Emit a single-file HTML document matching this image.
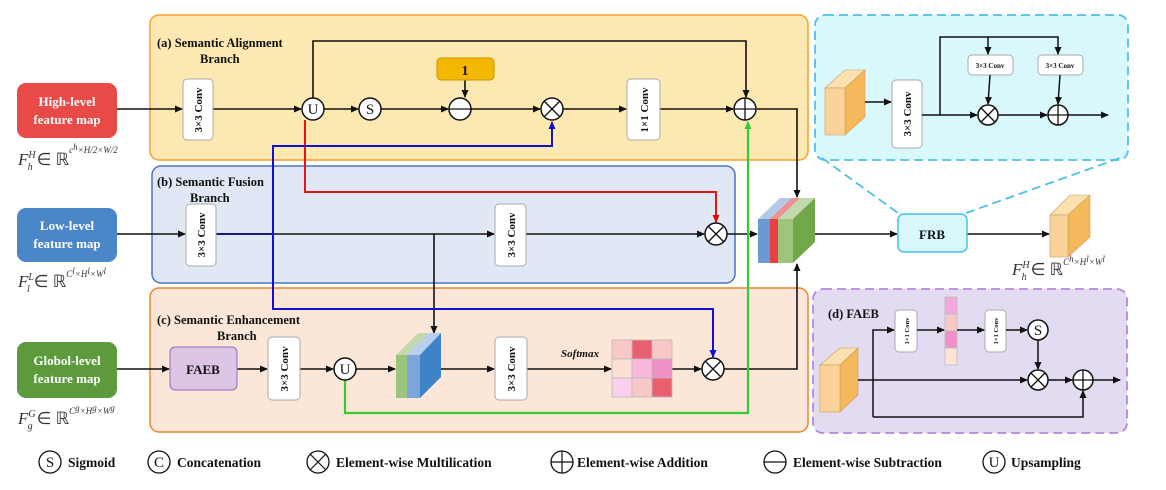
<!DOCTYPE html>
<html><head><meta charset="utf-8"><style>
html,body{margin:0;padding:0;background:#fff}
svg{display:block}
text{font-family:"Liberation Serif",serif;font-weight:bold;fill:#111}
text.n{font-weight:normal}
</style></head><body>
<svg width="1166" height="490" viewBox="0 0 1166 490" xmlns="http://www.w3.org/2000/svg">
<defs>
<marker id="ak" markerWidth="8" markerHeight="8" refX="7" refY="4" orient="auto" markerUnits="userSpaceOnUse"><path d="M0,0.5 L8,4 L0,7.5Z" fill="#111"/></marker>
<marker id="ar" markerWidth="8" markerHeight="8" refX="7" refY="4" orient="auto" markerUnits="userSpaceOnUse"><path d="M0,0.5 L8,4 L0,7.5Z" fill="#e00"/></marker>
<marker id="ab" markerWidth="8" markerHeight="8" refX="7" refY="4" orient="auto" markerUnits="userSpaceOnUse"><path d="M0,0.5 L8,4 L0,7.5Z" fill="#1010d0"/></marker>
<marker id="ag" markerWidth="8" markerHeight="8" refX="7" refY="4" orient="auto" markerUnits="userSpaceOnUse"><path d="M0,0.5 L8,4 L0,7.5Z" fill="#3c3"/></marker>
</defs>

<rect x="150" y="15" width="658" height="145" rx="9" fill="#fce9b2" stroke="#f5a02a" stroke-width="1.5"/>
<rect x="152" y="166" width="583" height="117" rx="9" fill="#e0e8f5" stroke="#4a74c4" stroke-width="1.5"/>
<rect x="150" y="288" width="658" height="144" rx="9" fill="#fce6d8" stroke="#f0842a" stroke-width="1.5"/>
<rect x="815" y="15" width="313" height="145" rx="10" fill="#d8f8fc" stroke="#4cc0e8" stroke-width="1.8" stroke-dasharray="9,5"/>
<rect x="813" y="289" width="314" height="144" rx="10" fill="#e2dbf2" stroke="#b588dc" stroke-width="1.8" stroke-dasharray="9,5"/>
<line x1="822" y1="158" x2="898" y2="213" stroke="#4cc0e8" stroke-width="1.8" stroke-dasharray="9,5"/>
<line x1="966" y1="213" x2="1120" y2="158" stroke="#4cc0e8" stroke-width="1.8" stroke-dasharray="9,5"/>

<text x="157" y="47" font-size="12.5">(a) Semantic Alignment</text>
<text x="200" y="63" font-size="12.5">Branch</text>
<text x="157" y="186" font-size="12.5">(b) Semantic Fusion</text>
<text x="190" y="202" font-size="12.5">Branch</text>
<text x="157" y="324" font-size="12.5">(c) Semantic Enhancement</text>
<text x="217" y="340" font-size="12.5">Branch</text>
<text x="828" y="318" font-size="12.5">(d) FAEB</text>

<rect x="17" y="83" width="100" height="55" rx="9" fill="#e84a48"/>
<text x="67" y="106" font-size="13" text-anchor="middle" style="fill:#fff">High-level</text>
<text x="67" y="124" font-size="13" text-anchor="middle" style="fill:#fff">feature map</text>
<rect x="17" y="208" width="100" height="54" rx="9" fill="#4a86c8"/>
<text x="67" y="230" font-size="13" text-anchor="middle" style="fill:#fff">Low-level</text>
<text x="67" y="248" font-size="13" text-anchor="middle" style="fill:#fff">feature map</text>
<rect x="17" y="342" width="100" height="56" rx="9" fill="#5c9a3c"/>
<text x="67" y="365" font-size="13" text-anchor="middle" style="fill:#fff">Globol-level</text>
<text x="67" y="383" font-size="13" text-anchor="middle" style="fill:#fff">feature map</text>

<text class="n" x="18" y="165" font-size="17" font-style="italic" style="fill:#333">F<tspan font-size="10" dy="-7">H</tspan><tspan font-size="10" dy="12" dx="-8">h</tspan><tspan dy="-5" font-style="normal" dx="4">∈ ℝ</tspan><tspan font-size="9" dy="-12">c<tspan dy="-3">h</tspan><tspan dy="3">×H/2×W/2</tspan></tspan></text>
<text class="n" x="18" y="287" font-size="17" font-style="italic" style="fill:#333">F<tspan font-size="10" dy="-7">L</tspan><tspan font-size="10" dy="12" dx="-7">l</tspan><tspan dy="-5" font-style="normal" dx="4">∈ ℝ</tspan><tspan font-size="9" dy="-10">C<tspan dy="-3">l</tspan><tspan dy="3">×H</tspan><tspan dy="-3">l</tspan><tspan dy="3">×W</tspan><tspan dy="-3">l</tspan></tspan></text>
<text class="n" x="18" y="424" font-size="17" font-style="italic" style="fill:#333">F<tspan font-size="10" dy="-7">G</tspan><tspan font-size="10" dy="12" dx="-8">g</tspan><tspan dy="-5" font-style="normal" dx="4">∈ ℝ</tspan><tspan font-size="9" dy="-10">C<tspan dy="-3">g</tspan><tspan dy="3">×H</tspan><tspan dy="-3">g</tspan><tspan dy="3">×W</tspan><tspan dy="-3">g</tspan></tspan></text>
<text class="n" x="1012" y="275" font-size="17" font-style="italic" style="fill:#333">F<tspan font-size="10" dy="-7">H</tspan><tspan font-size="10" dy="12" dx="-8">h</tspan><tspan dy="-5" font-style="normal" dx="4">∈ ℝ</tspan><tspan font-size="9" dy="-10">C<tspan dy="-3">h</tspan><tspan dy="3">×H</tspan><tspan dy="-3">l</tspan><tspan dy="3">×W</tspan><tspan dy="-3">l</tspan></tspan></text>

<g stroke="#111" stroke-width="1.6" fill="none">
<line x1="117" y1="109" x2="182" y2="109" marker-end="url(#ak)"/>
<line x1="213" y1="109" x2="301" y2="109" marker-end="url(#ak)"/>
<line x1="324" y1="109" x2="358" y2="109" marker-end="url(#ak)"/>
<line x1="381" y1="109" x2="448" y2="109" marker-end="url(#ak)"/>
<line x1="471" y1="109" x2="540" y2="109" marker-end="url(#ak)"/>
<line x1="563" y1="109" x2="626" y2="109" marker-end="url(#ak)"/>
<line x1="660" y1="109" x2="733" y2="109" marker-end="url(#ak)"/>
<line x1="465" y1="80" x2="465" y2="97" marker-end="url(#ak)"/>
<polyline points="313,98 313,41 746,41 746,97" marker-end="url(#ak)"/>
<polyline points="757,109 797,109 797,197" marker-end="url(#ak)"/>
<line x1="117" y1="234" x2="185" y2="234" marker-end="url(#ak)"/>
<line x1="216" y1="234" x2="494" y2="234" marker-end="url(#ak)"/>
<line x1="526" y1="234" x2="704" y2="234" marker-end="url(#ak)"/>
<line x1="727" y1="234" x2="757" y2="234" marker-end="url(#ak)"/>
<line x1="434" y1="234" x2="434" y2="333" marker-end="url(#ak)"/>
<line x1="815" y1="234" x2="897" y2="234" marker-end="url(#ak)"/>
<line x1="967" y1="234" x2="1049" y2="234" marker-end="url(#ak)"/>
<line x1="117" y1="369" x2="169" y2="369" marker-end="url(#ak)"/>
<line x1="237" y1="369" x2="267" y2="369" marker-end="url(#ak)"/>
<line x1="300" y1="369" x2="333" y2="369" marker-end="url(#ak)"/>
<line x1="356" y1="369" x2="395" y2="369" marker-end="url(#ak)"/>
<line x1="441" y1="369" x2="494" y2="369" marker-end="url(#ak)"/>
<line x1="527" y1="369" x2="611" y2="369" marker-end="url(#ak)"/>
<line x1="672" y1="369" x2="701" y2="369" marker-end="url(#ak)"/>
<polyline points="724,369 797,369 797,264" marker-end="url(#ak)"/>
</g>
<line x1="216" y1="234" x2="272" y2="234" stroke="#1a1a80" stroke-width="2"/>
<polyline points="305,120 305,192 716,192 716,222" fill="none" stroke="#e11" stroke-width="2" marker-end="url(#ar)"/>
<polyline points="552,133 552,146 273,146 273,309 713,309 713,357" fill="none" stroke="#1010d0" stroke-width="2"/>
<line x1="552" y1="146" x2="552" y2="122" stroke="#1010d0" stroke-width="2" marker-end="url(#ab)"/>
<line x1="713" y1="309" x2="713" y2="357" stroke="#1010d0" stroke-width="2" marker-end="url(#ab)"/>
<polyline points="345,380 345,413 748,413 748,122" fill="none" stroke="#3c3" stroke-width="2.2" marker-end="url(#ag)"/>

<g fill="#fff" stroke="#aaa" stroke-width="1">
<rect x="183" y="79" width="30" height="61" rx="4"/>
<rect x="627" y="79" width="33" height="61" rx="4"/>
<rect x="186" y="204" width="30" height="62" rx="4"/>
<rect x="495" y="204" width="31" height="62" rx="4"/>
<rect x="268" y="337" width="32" height="63" rx="4"/>
<rect x="495" y="337" width="32" height="63" rx="4"/>
<rect x="892" y="80" width="30" height="68" rx="4"/>
<rect x="968" y="55" width="45" height="20" rx="4"/>
<rect x="1038" y="55" width="45" height="20" rx="4"/>
<rect x="895" y="310" width="22" height="42" rx="4"/>
<rect x="985" y="310" width="21" height="42" rx="4"/>
</g>
<g font-size="11">
<text transform="translate(202,110) rotate(-90)" text-anchor="middle">3×3 Conv</text>
<text transform="translate(648,110) rotate(-90)" text-anchor="middle">1×1 Conv</text>
<text transform="translate(205,235) rotate(-90)" text-anchor="middle">3×3 Conv</text>
<text transform="translate(515,235) rotate(-90)" text-anchor="middle">3×3 Conv</text>
<text transform="translate(288,369) rotate(-90)" text-anchor="middle">3×3 Conv</text>
<text transform="translate(515,369) rotate(-90)" text-anchor="middle">3×3 Conv</text>
<text transform="translate(911,114) rotate(-90)" text-anchor="middle">3×3 Conv</text>
</g>
<text x="990" y="68" font-size="7" text-anchor="middle">3×3 Conv</text>
<text x="1060" y="68" font-size="7" text-anchor="middle">3×3 Conv</text>
<text transform="translate(909,331) rotate(-90)" text-anchor="middle" font-size="6.5">1×1 Conv</text>
<text transform="translate(998,331) rotate(-90)" text-anchor="middle" font-size="6.5">1×1 Conv</text>

<rect x="437" y="58" width="57" height="22" rx="4" fill="#f5b800" stroke="#c99400"/>
<text x="465" y="75" font-size="14" text-anchor="middle">1</text>
<rect x="170" y="347" width="67" height="43" rx="5" fill="#dcc4e4" stroke="#9a66b8"/>
<text x="203" y="374" font-size="13" text-anchor="middle">FAEB</text>
<rect x="898" y="214" width="69" height="38" rx="6" fill="#d8f8fc" stroke="#4cc0e8" stroke-width="1.5"/>
<text x="932" y="239" font-size="13" text-anchor="middle">FRB</text>
<text x="580" y="357" font-size="11" text-anchor="middle" font-style="italic">Softmax</text>

<g fill="#fff" stroke="#111" stroke-width="1.5">
<circle cx="313" cy="109" r="11"/>
<circle cx="370" cy="109" r="11"/>
<circle cx="460" cy="109" r="11"/>
<circle cx="552" cy="109" r="11"/>
<circle cx="745" cy="109" r="11"/>
<circle cx="716" cy="234" r="11"/>
<circle cx="345" cy="369" r="11"/>
<circle cx="713" cy="369" r="11"/>
<circle cx="988" cy="115" r="10"/>
<circle cx="1058" cy="115" r="10"/>
<circle cx="1038" cy="330" r="10"/>
<circle cx="1038" cy="380" r="10"/>
<circle cx="1083" cy="380" r="10"/>
</g>
<g stroke="#111" stroke-width="1.3">
<line x1="449" y1="109" x2="471" y2="109"/>
<line x1="544" y1="101" x2="560" y2="117"/><line x1="560" y1="101" x2="544" y2="117"/>
<line x1="734" y1="109" x2="756" y2="109"/><line x1="745" y1="98" x2="745" y2="120"/>
<line x1="708" y1="226" x2="724" y2="242"/><line x1="724" y1="226" x2="708" y2="242"/>
<line x1="705" y1="361" x2="721" y2="377"/><line x1="721" y1="361" x2="705" y2="377"/>
<line x1="981" y1="108" x2="995" y2="122"/><line x1="995" y1="108" x2="981" y2="122"/>
<line x1="1048" y1="115" x2="1068" y2="115"/><line x1="1058" y1="105" x2="1058" y2="125"/>
<line x1="1031" y1="373" x2="1045" y2="387"/><line x1="1045" y1="373" x2="1031" y2="387"/>
<line x1="1073" y1="380" x2="1093" y2="380"/><line x1="1083" y1="370" x2="1083" y2="390"/>
</g>
<g font-size="15" text-anchor="middle">
<text class="n" x="313" y="114">U</text>
<text class="n" x="370" y="114">S</text>
<text class="n" x="345" y="374">U</text>
<text class="n" x="1038" y="335">S</text>
</g>

<polygon points="758,219 780,198 815,198 793,219" fill="#b5c9e6"/>
<polygon points="770,219 792,198 800,198 778,219" fill="#f09090"/>
<polygon points="778,219 800,198 815,198 793,219" fill="#c4d8b0"/>
<polygon points="793,219 815,198 815,242 793,263" fill="#70a848"/>
<rect x="758" y="219" width="12" height="44" fill="#6a9ad4"/>
<rect x="770" y="219" width="8" height="44" fill="#e84040"/>
<rect x="778" y="219" width="15" height="44" fill="#9cc47c"/>
<polygon points="1050,215 1070,195 1090,195 1068,215" fill="#fbe0b0" stroke="#c8a060" stroke-width="0.6"/>
<polygon points="1068,215 1090,195 1090,237 1068,257" fill="#f5b85a" stroke="#c8a060" stroke-width="0.6"/>
<rect x="1050" y="215" width="18" height="42" fill="#fbd39a" stroke="#c8a060" stroke-width="0.6"/>
<polygon points="825,88 845,70 865,70 845,88" fill="#fbe0b0" stroke="#c8a060" stroke-width="0.6"/>
<polygon points="845,88 865,70 865,117 845,135" fill="#f5b85a" stroke="#c8a060" stroke-width="0.6"/>
<rect x="825" y="88" width="20" height="47" fill="#fbd39a" stroke="#c8a060" stroke-width="0.6"/>
<polygon points="820,365 840,348 858,348 840,365" fill="#fbe0b0" stroke="#c8a060" stroke-width="0.6"/>
<polygon points="840,365 858,348 858,395 840,412" fill="#f5b85a" stroke="#c8a060" stroke-width="0.6"/>
<rect x="820" y="365" width="20" height="47" fill="#fbd39a" stroke="#c8a060" stroke-width="0.6"/>
<polygon points="396,355 418,333 441,333 420,355" fill="#c4d8b0"/>
<polygon points="407,355 429,333 441,333 420,355" fill="#b8d0ee"/>
<polygon points="420,355 441,333 441,377 420,398" fill="#3e82c8"/>
<rect x="396" y="355" width="11" height="43" fill="#9cc47c"/>
<rect x="407" y="355" width="13" height="43" fill="#7aa6dc"/>
<g stroke="#bbb" stroke-width="0.8">
<rect x="612" y="340" width="20" height="19" fill="#f8c8c8"/><rect x="632" y="340" width="20" height="19" fill="#e86070"/><rect x="652" y="340" width="20" height="19" fill="#f8c8c8"/>
<rect x="612" y="359" width="20" height="19" fill="#fde0d4"/><rect x="632" y="359" width="20" height="19" fill="#f8b8dc"/><rect x="652" y="359" width="20" height="19" fill="#f090c8"/>
<rect x="612" y="378" width="20" height="19" fill="#fbd0ec"/><rect x="632" y="378" width="20" height="19" fill="#f8c8c8"/><rect x="652" y="378" width="20" height="19" fill="#e86070"/>
</g>
<g stroke="#bbb" stroke-width="0.8">
<rect x="945" y="297" width="12" height="17" fill="#f4a8dc"/>
<rect x="945" y="314" width="12" height="17" fill="#f8c8c8"/>
<rect x="945" y="331" width="12" height="17" fill="#f090c8"/>
<rect x="945" y="348" width="12" height="17" fill="#fde4d4"/>
</g>

<g stroke="#111" stroke-width="1.5" fill="none">
<line x1="865" y1="102" x2="891" y2="102" marker-end="url(#ak)"/>
<line x1="922" y1="115" x2="977" y2="115" marker-end="url(#ak)"/>
<polyline points="940,115 940,37 1058,37 1058,54" marker-end="url(#ak)"/>
<line x1="988" y1="37" x2="988" y2="54" marker-end="url(#ak)"/>
<line x1="990" y1="75" x2="988" y2="104" marker-end="url(#ak)"/>
<line x1="1060" y1="75" x2="1058" y2="104" marker-end="url(#ak)"/>
<line x1="998" y1="115" x2="1047" y2="115" marker-end="url(#ak)"/>
<line x1="1068" y1="115" x2="1108" y2="115" marker-end="url(#ak)"/>
<line x1="858" y1="380" x2="1027" y2="380" marker-end="url(#ak)"/>
<polyline points="873,417 873,330 894,330" marker-end="url(#ak)"/>
<polyline points="873,417 1083,417 1083,391" marker-end="url(#ak)"/>
<line x1="917" y1="330" x2="944" y2="330" marker-end="url(#ak)"/>
<line x1="957" y1="330" x2="984" y2="330" marker-end="url(#ak)"/>
<line x1="1006" y1="330" x2="1027" y2="330" marker-end="url(#ak)"/>
<line x1="1038" y1="340" x2="1038" y2="369" marker-end="url(#ak)"/>
<line x1="1048" y1="380" x2="1072" y2="380" marker-end="url(#ak)"/>
<line x1="1093" y1="380" x2="1120" y2="380" marker-end="url(#ak)"/>
</g>

<g fill="#fff" stroke="#111" stroke-width="1.3">
<circle cx="50" cy="462" r="11"/><circle cx="159" cy="462" r="11"/><circle cx="318" cy="462" r="11"/>
<circle cx="562" cy="462" r="11"/><circle cx="775" cy="462" r="11"/><circle cx="994" cy="462" r="11"/>
</g>
<g stroke="#111" stroke-width="1.2">
<line x1="310" y1="454" x2="326" y2="470"/><line x1="326" y1="454" x2="310" y2="470"/>
<line x1="551" y1="462" x2="573" y2="462"/><line x1="562" y1="451" x2="562" y2="473"/>
<line x1="764" y1="462" x2="786" y2="462"/>
</g>
<g font-size="15" text-anchor="middle"><text class="n" x="50" y="467">S</text><text class="n" x="159" y="467">C</text><text class="n" x="994" y="467">U</text></g>
<g font-size="13.5">
<text x="68" y="467">Sigmoid</text>
<text x="177" y="467">Concatenation</text>
<text x="336" y="467">Element-wise Multilication</text>
<text x="577" y="467">Element-wise Addition</text>
<text x="793" y="467">Element-wise Subtraction</text>
<text x="1011" y="467">Upsampling</text>
</g>
</svg>
</body></html>
